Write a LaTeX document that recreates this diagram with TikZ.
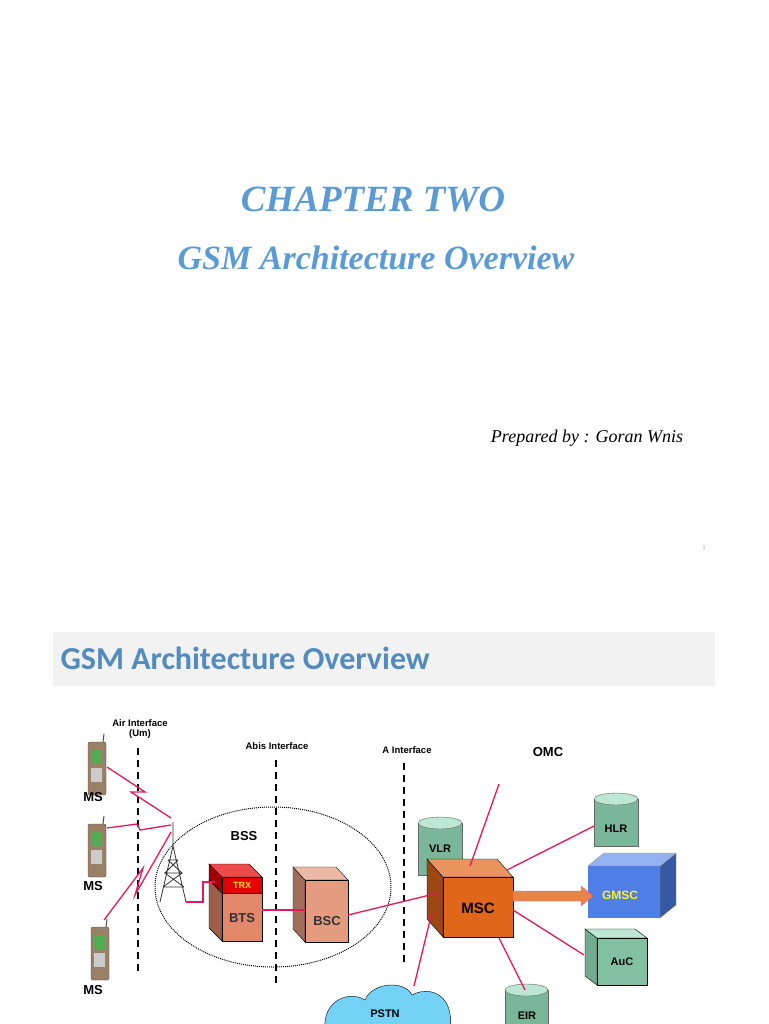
\documentclass[tikz,border=0pt]{standalone}
\usepackage{fontspec}
\setmainfont{Liberation Serif}
\setsansfont{Liberation Sans}
\newfontfamily\carlitofam{Carlito}
\usetikzlibrary{arrows.meta}
\definecolor{ttl}{HTML}{5B9BD5}
\definecolor{band}{HTML}{F2F2F2}
\definecolor{lnk}{HTML}{E8175D}
\definecolor{cylg}{HTML}{8FD6B4}
\definecolor{orng}{HTML}{E0661A}
\definecolor{gblue}{HTML}{4F7FE6}
\tikzset{
 lbl/.style={font=\sffamily\bfseries\fontsize{9.5}{10.5}\selectfont,align=center},
 big/.style={font=\sffamily\bfseries\fontsize{13}{15}\selectfont},
 mid/.style={font=\sffamily\bfseries\fontsize{11}{13}\selectfont},
 ifl/.style={line width=1.2pt,dash pattern=on 7pt off 5pt},
 link/.style={lnk,line width=1.3pt},
}
\newcommand{\cube}[8]{% x1 y1 x2 y2 dx dy color name
 \fill[#7!70!black,draw=black] (#1,#2)--(#1+#5,#2+#6)--(#1+#5,#4+#6)--(#1,#4)--cycle;
 \fill[#7!70!white,draw=black] (#1,#2)--(#1+#5,#2+#6)--(#3+#5,#2+#6)--(#3,#2)--cycle;
 \fill[#7,draw=black] (#1,#2) rectangle (#3,#4);
 \coordinate (#8) at ({(#1+#3)/2},{(#2+#4)/2});}
\newcommand{\cyl}[5]{% x1 ytop x2 ybot name
 \fill[cylg!85!black,draw=black!60] (#1,#2) -- (#1,#4) -- (#3,#4) -- (#3,#2) -- cycle;
 \fill[cylg!60!white,draw=black!60] ({(#1+#3)/2},#2) ellipse ({(#3-#1)/2} and 6);
 \coordinate (#5) at ({(#1+#3)/2},{(#2+#4)/2+4});}
\begin{document}
\begin{tikzpicture}[x=1pt,y=-1pt]
\useasboundingbox (0,0) rectangle (768,1024);
\clip (0,0) rectangle (768,1024);
\node[ttl,font=\bfseries\itshape\fontsize{37}{42}\selectfont] (t1) at (373,200) {CHAPTER TWO};
\node[ttl,font=\bfseries\itshape\fontsize{34}{38}\selectfont] (t2) at (376,258) {GSM Architecture Overview};
\node[font=\itshape\fontsize{18}{21}\selectfont] (pb) at (587,438) {Prepared by : Goran Wnis};
\node[font=\fontsize{6}{7}\selectfont,gray] (pg) at (704,548) {1};
\fill[band] (53,632) rectangle (715,686);
\node[ttl!90!black,font=\carlitofam\bfseries\fontsize{32}{36}\selectfont,anchor=west] (h) at (57,658) {GSM Architecture Overview};
% interfaces
\node[lbl] (air) at (140,729) {Air Interface\\(Um)};
\node[lbl] (abis) at (277,746) {Abis Interface};
\node[lbl] (aif) at (407,750) {A Interface};
\node[big] (omc) at (548,752) {OMC};
\draw[ifl] (138,748)--(138,975);
\draw[ifl] (276,760)--(276,987);
\draw[ifl] (404,763)--(404,965);
\draw[densely dotted,line width=1pt] (273,887) ellipse (118 and 80);
\node[big] (bss) at (244,836) {BSS};
% phones
\foreach \i/\x/\y in {1/97/770,2/97/852,3/100/955}{
 \fill[gray!60!brown,draw=black!70,rounded corners=2pt] (\x-9,\y-28) rectangle (\x+9,\y+25);
 \fill[green!35!gray] (\x-6,\y-20) rectangle (\x+5,\y-6);
 \draw[black!70,line width=1pt] (\x+6,\y-28)--(\x+7,\y-36);
 \fill[gray!40] (\x-6,\y-2) rectangle (\x+5,\y+12);
}
\node[big] (ms1) at (93,797) {MS};
\node[big] (ms2) at (93,886) {MS};
\node[big] (ms3) at (93,990) {MS};
% tower
\coordinate (ant) at (173,822);
\draw[black!80,line width=0.8pt] (173,822)--(173,846) (173,846)--(160,902) (173,846)--(186,902)
 (168,860)--(178,860) (165,873)--(182,873) (163,887)--(184,887)
 (168,860)--(182,873)--(165,873)--(184,887) (178,860)--(165,873) (182,873)--(163,887);
% radio links
\draw[link] (107,767)--(145,792)--(131,792)--(171,818);
\draw[link] (107,828)--(137,824)--(140,830)--(171,825);
\draw[link] (104,920)--(143,868)--(135,895)--(171,832);
% boxes
\cube{222}{893}{262}{941}{-13}{-13}{red!35!brown!70!white}{bts}
\cube{222}{877}{262}{893}{-13}{-13}{red!90!black}{trx}
\node[font=\sffamily\bfseries\fontsize{9}{10}\selectfont,yellow] (trxl) at (242,885) {TRX};
\node[big,black!80] (btsl) at (242,918) {BTS};
\cube{305}{880}{348}{942}{-12}{-13}{red!30!brown!60!white}{bsc}
\node[big,black!80] (bscl) at (327,921) {BSC};
\cyl{418}{823}{462}{875}{vlr}
\node[mid] (vlrl) at (440,849) {VLR};
\cube{443}{877}{513}{937}{-16}{-18}{orng}{msc}
\node[font=\sffamily\bfseries\fontsize{15}{17}\selectfont] (mscl) at (478,908) {MSC};
\cyl{594}{799}{638}{846}{hlr}
\node[mid] (hlrl) at (616,829) {HLR};
\cyl{505}{990}{548}{1030}{eir}
\node[mid] (eirl) at (527,1016) {EIR};
% GMSC
\fill[gblue!70!black,draw=black!40] (660,866)--(676,853)--(676,905)--(660,918)--cycle;
\fill[gblue!60!white,draw=black!40] (588,866)--(604,853)--(676,853)--(660,866)--cycle;
\fill[gblue] (588,866) rectangle (660,918);
\node[font=\sffamily\bfseries\fontsize{12}{14}\selectfont,yellow!90!white] (gmsc) at (620,895) {GMSC};
% AuC
\fill[cylg!80!black,draw=black] (597,938)--(585,929)--(585,976)--(597,985)--cycle;
\fill[cylg!60!white,draw=black] (597,938)--(585,929)--(635,929)--(647,938)--cycle;
\fill[cylg!90!black,draw=black] (597,938) rectangle (647,985);
\node[mid] (auc) at (622,962) {AuC};
% PSTN cloud
\fill[cyan!55!white,draw=black] (325,1030) .. controls (322,1000) and (350,990) .. (365,1000)
 .. controls (372,982) and (405,980) .. (412,995) .. controls (430,985) and (455,995) .. (450,1030) -- cycle;
\node[mid] (pstn) at (385,1014) {PSTN};
% links
\draw[link] (262,910)--(305,910);
\draw[link] (186,902)--(203,902)--(203,882)--(215,882);
\draw[link] (348,915)--(438,893);
\draw[link] (470,866)--(499,784);
\draw[link] (507,870)--(594,826);
\draw[link] (513,910)--(584,955);
\draw[link] (499,938)--(525,990);
\draw[link] (432,912)--(414,986);
\fill[orng!80!white,draw=lnk!70] (513,891)--(581,891)--(581,886)--(593,896)--(581,906)--(581,901)--(513,901)--cycle;
\end{tikzpicture}
\end{document}
